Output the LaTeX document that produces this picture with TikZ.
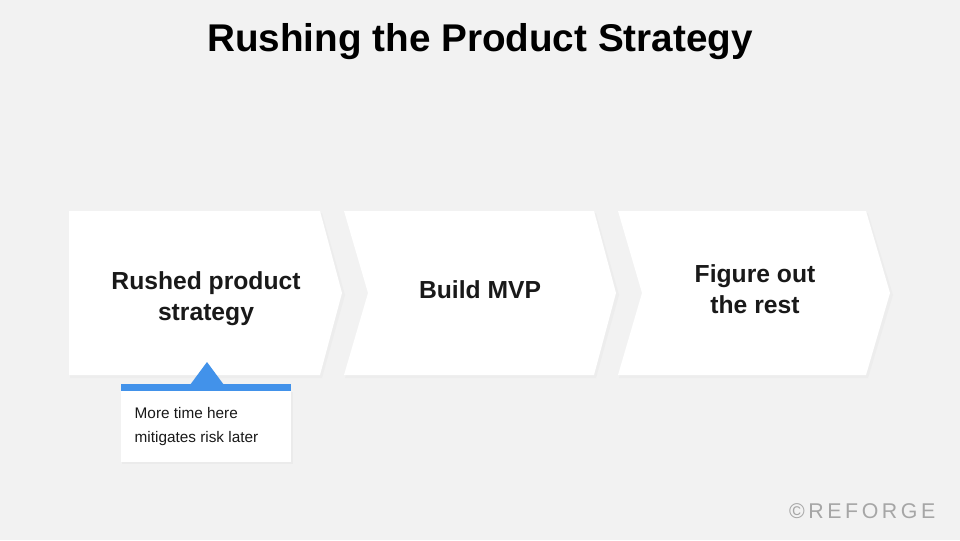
\documentclass[tikz,border=0pt]{standalone}
\usepackage{fontspec}
\setmainfont{Liberation Sans}
\begin{document}
\begin{tikzpicture}[x=0.75pt,y=-0.75pt,
  chev/.style={fill=white},
  shad/.style={fill=black!7},
  lbl/.style={font=\bfseries\fontsize{18.5}{23}\selectfont,align=center,text=black!90}]
\fill[black!5] (0,0) rectangle (960,540);
\useasboundingbox (0,0) rectangle (960,540);
\node (title) at (480,42) {\bfseries\fontsize{29}{33}\selectfont Rushing the Product Strategy};
% shadows
\fill[shad] (70,213) -- (322,213) -- (345,295) -- (322,378) -- (70,378) -- cycle;
\fill[shad] (345,213) -- (596,213) -- (619,295) -- (596,378) -- (345,378) -- (370,295) -- cycle;
\fill[shad] (619,213) -- (868,213) -- (893,295) -- (868,378) -- (619,378) -- (644,295) -- cycle;
% chevrons
\fill[chev] (69,211) -- (320,211) -- (342,293) -- (320,375) -- (69,375) -- cycle;
\fill[chev] (344,211) -- (594,211) -- (616,293) -- (594,375) -- (344,375) -- (368,293) -- cycle;
\fill[chev] (618,211) -- (866,211) -- (890,293) -- (866,375) -- (618,375) -- (642,293) -- cycle;
\node[lbl] (c1) at (206,299) {Rushed product\\strategy};
\node[lbl] (c2) at (480,290) {Build MVP};
\node[lbl] (c3) at (755,289) {Figure out\\the rest};
% callout
\fill[black!8] (122,392) rectangle (293,464);
\fill[white] (121,391) rectangle (291,462);
\fill[fill={rgb,255:red,66;green,146;blue,234}] (121,384) rectangle (291,391);
\fill[fill={rgb,255:red,66;green,146;blue,234}] (190,385) -- (207,362) -- (224,385) -- cycle;
\node[anchor=north west,align=left,font=\fontsize{11.5}{18}\selectfont,text=black!90] (note) at (130,403) {More time here\\mitigates risk later};
\node[anchor=east,text=black!35,font=\fontsize{16}{18}\selectfont] (logo) at (940,511) {©\,R\,E\,F\,O\,R\,G\,E};
\end{tikzpicture}
\end{document}
